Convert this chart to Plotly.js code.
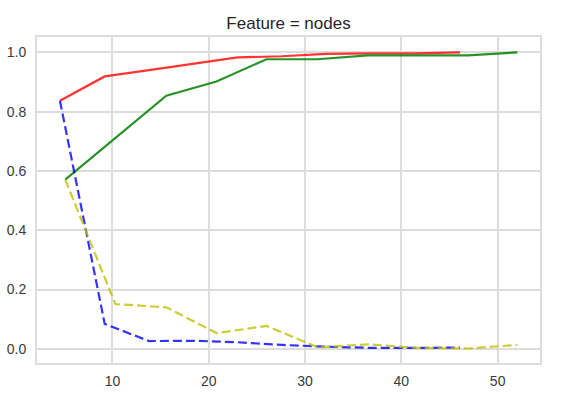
<!DOCTYPE html>
<html>
<head>
<meta charset="utf-8">
<script src="https://cdn.plot.ly/plotly-3.0.1.min.js"></script>
<style>html,body{margin:0;padding:0;background:#fff;}#chart{width:561px;height:405px;}</style>
</head>
<body>
<div id="chart"></div>
<script>
// Series A (red solid / blue dashed)
const xA = [4.55, 9.2, 13.8, 18.4, 23.0, 27.6, 32.2, 36.9, 41.5, 46.1];
const redY = [0.837, 0.919, 0.94, 0.962, 0.983, 0.987, 0.995, 0.997, 0.997, 1.0];
const blueY = [0.837, 0.084, 0.026, 0.027, 0.022, 0.013, 0.007, 0.003, 0.003, 0.004];
// Series B (green solid / yellow dashed)
const xB = [5.1, 10.3, 15.6, 20.8, 26.0, 31.3, 36.5, 41.7, 46.9, 52.05];
const greenY = [0.571, 0.712, 0.854, 0.902, 0.977, 0.977, 0.99, 0.99, 0.99, 1.0];
const yellowY = [0.571, 0.151, 0.14, 0.053, 0.077, 0.005, 0.015, 0.003, 0.001, 0.013];
const xTicks = [10, 20, 30, 40, 50];
const yTicks = [0.0, 0.2, 0.4, 0.6, 0.8, 1.0];
const titleText = "Feature = nodes";

const traces = [
  {x: xA, y: redY, mode: 'lines', line: {color: 'rgba(255,0,0,0.8)', width: 2.2}},
  {x: xB, y: greenY, mode: 'lines', line: {color: 'rgba(0,128,0,0.85)', width: 2.2}},
  {x: xA, y: blueY, mode: 'lines', line: {color: 'rgba(0,0,255,0.8)', width: 2.2, dash: '9px,4px'}},
  {x: xB, y: yellowY, mode: 'lines', line: {color: 'rgba(191,191,0,0.8)', width: 2.2, dash: '9px,4px'}}
];

const axisCommon = {
  showgrid: true, gridcolor: '#dcdcdc', gridwidth: 2,
  showline: true, linecolor: '#dcdcdc', linewidth: 2, mirror: true,
  zeroline: false, ticks: '', ticklen: 0,
  tickfont: {family: 'Liberation Sans, Arial, sans-serif', size: 14, color: '#3a3a3a'}
};

const layout = {
  width: 561, height: 405,
  margin: {l: 37, r: 21, t: 37, b: 42},
  paper_bgcolor: '#ffffff', plot_bgcolor: '#ffffff',
  showlegend: false,
  title: {text: titleText, x: 0.5, xref: 'paper', y: 1 - 23/405, yref: 'container', yanchor: 'middle',
          font: {family: 'Liberation Sans, Arial, sans-serif', size: 17, color: '#262626'}},
  xaxis: Object.assign({}, axisCommon, {range: [2.17, 54.4], tickvals: xTicks, ticktext: xTicks.map(String), ticklabelstandoff: 4}),
  yaxis: Object.assign({}, axisCommon, {range: [-0.048, 1.052], tickvals: yTicks, ticktext: yTicks.map(v => v.toFixed(1)), ticklabelstandoff: 6})
};

Plotly.newPlot('chart', traces, layout, {displayModeBar: false, staticPlot: true});
</script>
</body>
</html>
